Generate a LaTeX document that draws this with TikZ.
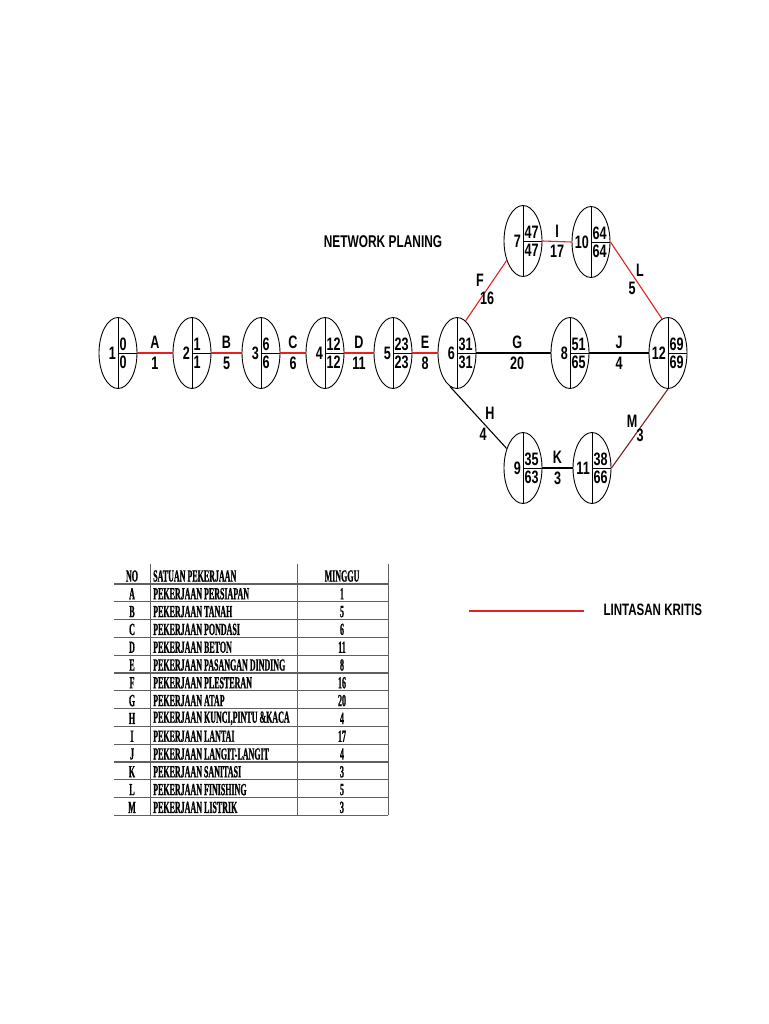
\documentclass[tikz,border=0pt]{standalone}
\usepackage{fontspec}
\usetikzlibrary{shapes.geometric}
\newfontfamily\netfont[FakeStretch=0.7]{Liberation Sans}
\newfontfamily\tabfont[FakeStretch=0.47, FakeBold=0.8, UprightFont=* Bold]{Liberation Serif}
\definecolor{critred}{RGB}{228,32,32}
\definecolor{critdark}{RGB}{125,32,32}
\definecolor{gridgray}{RGB}{95,95,95}

\tikzset{
  event/.style={draw, ellipse, line width=0.9pt, minimum width=38pt, minimum height=71pt, inner sep=0pt},
  num/.style={font=\netfont\bfseries\fontsize{18}{20}\selectfont, inner sep=0pt},
  lbl/.style={font=\netfont\bfseries\fontsize{18}{20}\selectfont, inner sep=3.5pt},
  crit/.style={draw=critred, line width=1.1pt},
  act/.style={draw=black, line width=1.1pt},
  cell/.style={font=\tabfont\fontsize{17}{18}\selectfont, inner sep=0pt},
}

% event: name, position, number, earliest, latest
\newcommand\eventnode[5]{%
  \node[event] (#1) at (#2) {};
  \draw[line width=0.9pt] (#1.north) -- (#1.south) (#1.center) -- (#1.east);
  \node[num, anchor=east] (#1n) at ([xshift=-2pt]#1.center) {#3};
  \node[num, anchor=south west] (#1e) at ([xshift=1.5pt,yshift=2pt]#1.center) {#4};
  \node[num, anchor=north west] (#1l) at ([xshift=1.5pt,yshift=-3pt]#1.center) {#5};
}

\begin{document}
\begin{tikzpicture}[x=1pt,y=-1pt]
\fill[white] (0,0) rectangle (768,1024);
\useasboundingbox (0,0) rectangle (768,1024);

\node[font=\netfont\bfseries\fontsize{17}{18}\selectfont] (title) at (383,242) {NETWORK PLANING};

% events
\eventnode{n1}{118,353}{1}{0}{0}
\eventnode{n2}{192,353}{2}{1}{1}
\eventnode{n3}{261,353}{3}{6}{6}
\eventnode{n4}{325,353}{4}{12}{12}
\eventnode{n5}{393,353}{5}{23}{23}
\eventnode{n6}{457,353}{6}{31}{31}
\eventnode{n7}{523,241}{7}{47}{47}
\eventnode{n10}{591,242}{10}{64}{64}
\eventnode{n8}{570,353}{8}{51}{65}
\eventnode{n12}{668,353}{12}{69}{69}
\eventnode{n9}{523,468}{9}{35}{63}
\eventnode{n11}{592,468}{11}{38}{66}

% activities
\foreach \a/\b/\act/\dur in {n1/n2/A/1, n2/n3/B/5, n3/n4/C/6, n4/n5/D/11, n5/n6/E/8}
  \draw[crit] (\a.east) -- (\b.west) node[lbl, midway, above] {\act} node[lbl, midway, below] {\dur};
\draw[crit] (n6.75) -- (n7.230);
\draw[crit] (n7.east) -- (n10.west) node[lbl, midway, above] {I} node[lbl, midway, below] {17};
\draw[crit] (n10.east) -- (n12.100);
\draw[act] (n6.east) -- (n8.west) node[lbl, pos=.55, above] {G} node[lbl, pos=.55, below] {20};
\draw[act] (n8.east) -- (n12.west) node[lbl, midway, above] {J} node[lbl, midway, below] {4};
\draw[act] (n6.258) -- (n9.130);
\draw[act] (n9.east) -- (n11.west) node[lbl, midway, above] {K} node[lbl, midway, below] {3};
\draw[critdark, line width=1.1pt] (n11.east) -- (n12.south);

\node[num] (actF) at (480,280) {F};
\node[num] (durF) at (487,298) {16};
\node[num] (actL) at (640,270) {L};
\node[num] (durL) at (632,288) {5};
\node[num] (actH) at (490,413) {H};
\node[num] (durH) at (483,434) {4};
\node[num] (actM) at (632,421) {M};
\node[num] (durM) at (640,435) {3};

% legend
\coordinate (kritA) at (469,611);
\coordinate (kritB) at (584,611);
\draw[crit] (kritA) -- (kritB);
\node[anchor=west, font=\netfont\bfseries\fontsize{16.5}{18}\selectfont] (kritis) at (600,610) {LINTASAN KRITIS};

% table
\foreach \k in {0,...,13}
  \draw[gridgray, line width=1.1pt] (114,{584+17.8*\k}) -- (388,{584+17.8*\k});
\foreach \x in {150,297,388}
  \draw[gridgray, line width=1pt] (\x,564) -- (\x,815.4);
\node[cell] (hNo) at (132,576) {NO};
\node[cell, anchor=west] (hJob) at (153,576) {SATUAN PEKERJAAN};
\node[cell] (hWk) at (342,576) {MINGGU};
\foreach \no/\job/\wk [count=\i] in {A/PEKERJAAN PERSIAPAN/1, B/PEKERJAAN TANAH/5,
    C/PEKERJAAN PONDASI/6, D/PEKERJAAN BETON/11, E/PEKERJAAN PASANGAN DINDING/8,
    F/PEKERJAAN PLESTERAN/16, G/PEKERJAAN ATAP/20, H/{PEKERJAAN KUNCI,PINTU \&KACA}/4,
    I/PEKERJAAN LANTAI/17, J/PEKERJAAN LANGIT-LANGIT/4, K/PEKERJAAN SANITASI/3,
    L/PEKERJAAN FINISHING/5, M/PEKERJAAN LISTRIK/3}{
  \node[cell] (no\i) at (132,{576+17.8*\i}) {\no};
  \node[cell, anchor=west] (job\i) at (153,{576+17.8*\i}) {\job};
  \node[cell] (wk\i) at (342,{576+17.8*\i}) {\wk};
}
\end{tikzpicture}
\end{document}
